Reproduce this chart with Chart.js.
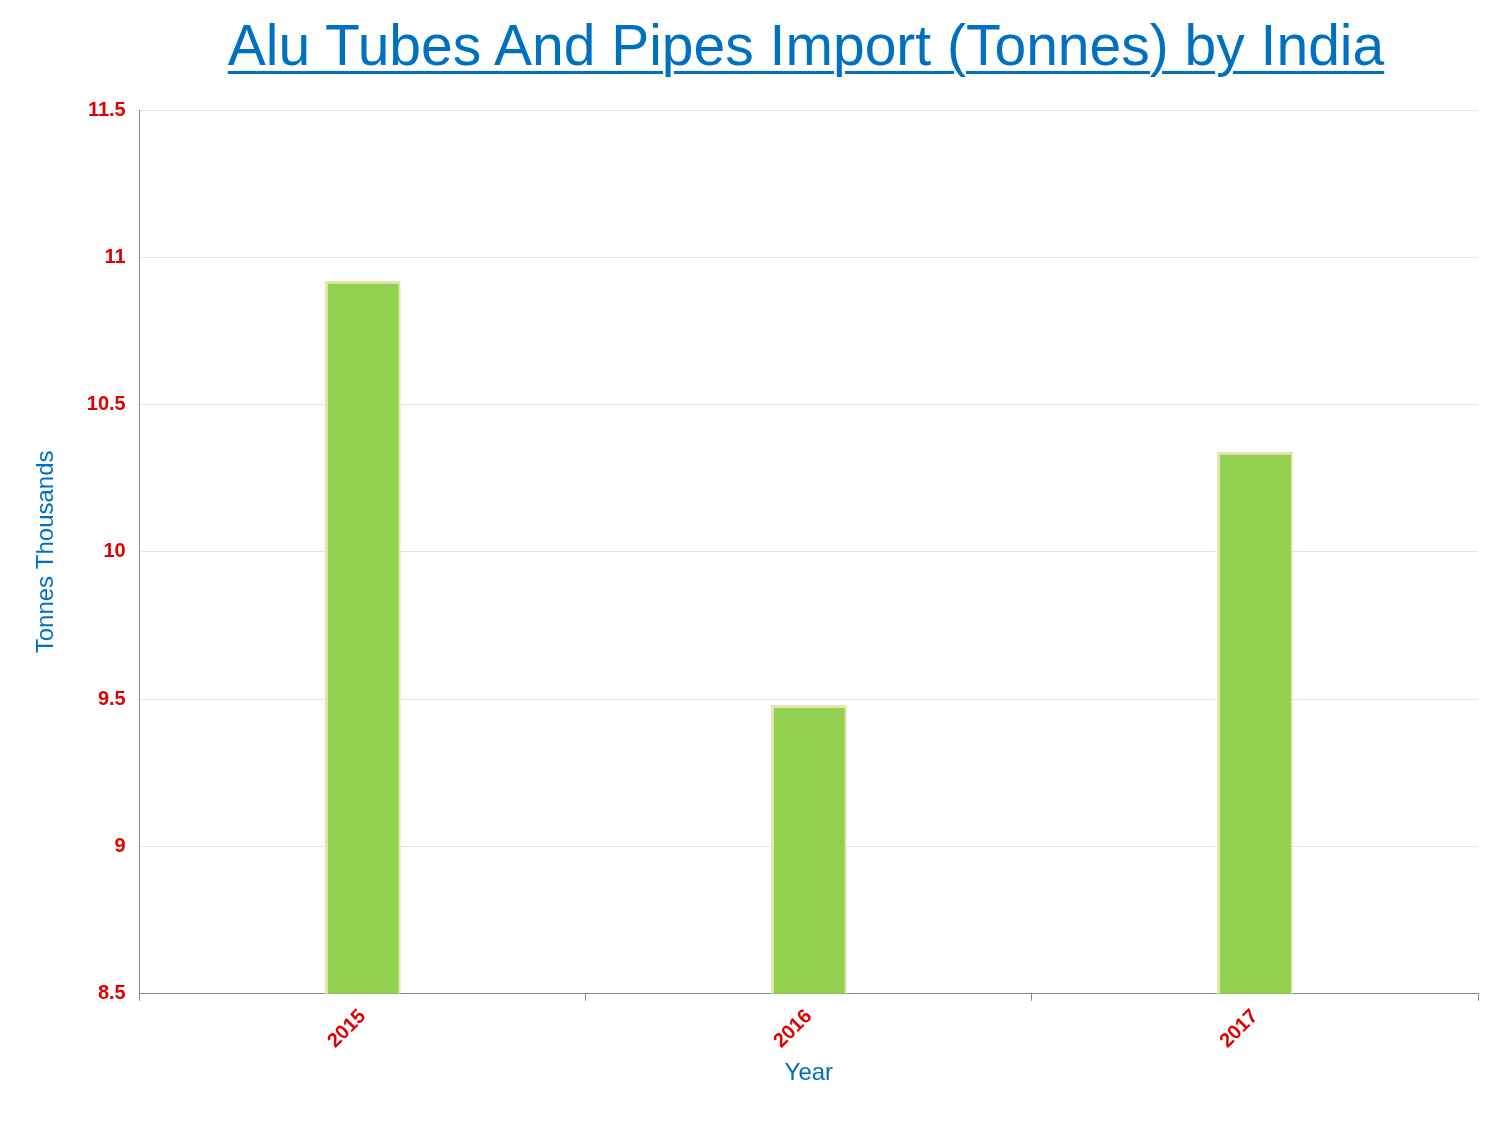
<!DOCTYPE html>
<html><head><meta charset="utf-8">
<script src="https://cdn.jsdelivr.net/npm/chart.js@4"></script>
<style>
html,body{margin:0;padding:0;background:#fff;}
#wrap{position:relative;width:1500px;height:1125px;}
#title{position:absolute;top:12px;left:0;width:1612px;text-align:center;font-family:"Liberation Sans",Arial,sans-serif;font-size:57px;color:#0070C0;text-decoration:underline;text-decoration-thickness:3px;text-underline-offset:6px;white-space:nowrap;}
canvas{position:absolute;left:0;top:0;}
</style></head><body>
<div id="wrap"><canvas id="c" width="1500" height="1125"></canvas><div id="title">Alu Tubes And Pipes Import (Tonnes) by India</div></div>
<script>
const categories = ["2015","2016","2017"];
const values = [10.92, 9.48, 10.34];
const yTicks = [8.5, 9, 9.5, 10, 10.5, 11, 11.5];
const font = "'Liberation Sans', Arial, sans-serif";
new Chart(document.getElementById('c'), {
  type: 'bar',
  data: { labels: categories, datasets: [{ data: values, backgroundColor: '#92D050', borderColor: '#E8E4B0', borderWidth: {left:3,right:2,top:3,bottom:0}, barPercentage: 0.17, categoryPercentage: 1 }] },
  options: {
    responsive: false, animation: false,
    layout: { padding: { top: 110, right: 22, left: 28, bottom: 33 } },
    plugins: { legend: { display: false }, tooltip: { enabled: false } },
    scales: {
      y: { min: 8.5, max: 11.5, afterBuildTicks: ax => { ax.ticks = yTicks.map(v => ({value: v})); },
        ticks: { color: '#E00000', font: { family: font, size: 20, weight: 'bold' }, padding: 14, callback: v => String(v) },
        grid: { color: '#E4E4E4', drawTicks: false }, border: { color: '#888', width: 1 },
        title: { display: true, text: 'Tonnes Thousands', color: '#0070C0', font: { family: font, size: 24 }, padding: { bottom: 12 } } },
      x: { offset: true,
        ticks: { color: '#E00000', font: { family: font, size: 20, weight: 'bold' }, maxRotation: 45, minRotation: 45, padding: 4 },
        grid: { drawOnChartArea: false, drawTicks: true, tickLength: 7, color: '#888', offset: true },
        border: { color: '#888', width: 1 },
        title: { display: true, text: 'Year', color: '#0070C0', font: { family: font, size: 24 }, padding: { top: 2 } } }
    }
  }
});
</script></body></html>
